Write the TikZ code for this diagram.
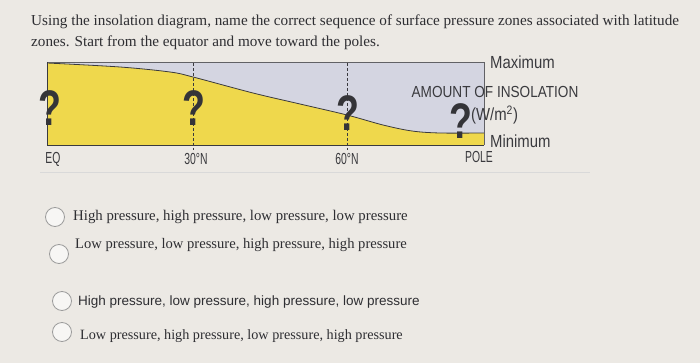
\documentclass[tikz,border=0pt]{standalone}
\usepackage{fontspec}
\setmainfont{Liberation Serif}
\setsansfont{Liberation Sans}
\newfontfamily\labelfont[FakeStretch=0.85]{Liberation Sans}
\newfontfamily\axisfont[FakeStretch=0.65]{Liberation Sans}
\newfontfamily\qfont[FakeStretch=0.75]{Liberation Sans Bold}
\usepackage{tikz}

\definecolor{paper}{HTML}{ECE9E4}
\definecolor{sky}{HTML}{D4D5E1}
\definecolor{sun}{HTML}{EFD84C}
\definecolor{ink}{HTML}{3A3A3E}
\definecolor{rim}{HTML}{9C9C9C}

\tikzset{
  lbl/.style={font=\labelfont\fontsize{17.5}{18}\selectfont, text=ink, inner sep=0pt},
  axislbl/.style={font=\axisfont\fontsize{16}{17}\selectfont, text=ink, inner sep=0pt},
  qmark/.style={font=\qfont\fontsize{50}{50}\selectfont, text=ink!90!black, inner sep=0pt},
  choice/.style={font=\fontsize{14.8}{16}\selectfont, text=ink!80!black, anchor=west, inner sep=0pt},
  radio/.style={draw=rim, fill=white!60!paper, thick, minimum size=19pt, inner sep=0pt, circle}
}

\begin{document}
\begin{tikzpicture}[x=1pt,y=-1pt]
\fill[paper] (0,0) rectangle (700,363);
\useasboundingbox (0,0) rectangle (700,363);

% question
\node[font=\fontsize{15.2}{18}\selectfont, text=ink!80!black, anchor=base west, inner sep=0pt] (q1) at (31,26)
  {Using the insolation diagram, name the correct sequence of surface pressure zones associated with latitude};
\node[font=\fontsize{15.2}{18}\selectfont, text=ink!80!black, anchor=base west, inner sep=0pt] (q2) at (31,47)
  {zones. Start from the equator and move toward the poles.};

% insolation diagram
\fill[sky] (47,62) rectangle (484,145);
\fill[sun] (47,145) -- plot[smooth, tension=0.55] coordinates {(47,63) (120,67) (170,72) (193,77) (253,93) (300,104) (347,115) (383,125) (412,131) (440,133) (484,133)} -- (484,145) -- cycle;
\draw[ink, thick] plot[smooth, tension=0.55] coordinates {(47,63) (120,67) (170,72) (193,77) (253,93) (300,104) (347,115) (383,125) (412,131) (440,133) (484,133)};
\draw[ink!80, thick] (47,62) -- (484,62) -- (484,145);
\draw[ink, thick] (47,62) -- (47,145) -- (484,145);
\foreach \x in {193,347} {
\draw[ink, densely dashed] (\x,63) -- (\x,150);
}

\node[axislbl] (eq) at (53,159) {EQ};
\node[axislbl] (n30) at (196,159) {30\textdegree N};
\node[axislbl] (n60) at (347,159) {60\textdegree N};
\node[axislbl] (pole) at (479,157) {POLE};
\draw[black!15] (40,172) -- (590,172);

\node[qmark] (qa) at (50,108) {?};
\node[qmark] (qb) at (194,108) {?};
\node[qmark] (qc) at (348,113) {?};
\node[qmark] (qd) at (461,121) {?};

\node[lbl, anchor=west] (max) at (490,62) {Maximum};
\node[lbl, font=\labelfont\fontsize{16}{17}\selectfont] (amount) at (495,92) {AMOUNT OF INSOLATION};
\node[lbl, anchor=west] (unit) at (471,115) {(W/m\textsuperscript{2})};
\node[lbl, anchor=west] (min) at (490,141) {Minimum};

% answer choices
\node[radio] (r1) at (55,217) {};
\node[radio] (r2) at (59,254) {};
\node[radio] (r3) at (62,301) {};
\node[radio] (r4) at (62,332) {};
\node[choice] (c1) at (73,217) {High pressure, high pressure, low pressure, low pressure};
\node[choice, font=\fontsize{14.6}{16}\selectfont] (c2) at (75,245) {Low pressure, low pressure, high pressure, high pressure};
\node[choice, font=\sffamily\fontsize{13.5}{15}\selectfont] (c3) at (78,302) {High pressure, low pressure, high pressure, low pressure};
\node[choice, font=\fontsize{14.2}{16}\selectfont] (c4) at (80,336) {Low pressure, high pressure, low pressure, high pressure};
\end{tikzpicture}
\end{document}
